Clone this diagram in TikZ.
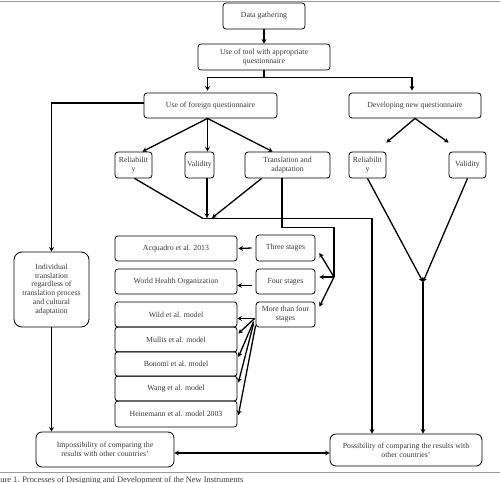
\documentclass[tikz,border=0pt]{standalone}
\usepackage{fontspec}
\setmainfont{Liberation Serif}
\usetikzlibrary{arrows.meta,calc}
\definecolor{txt}{HTML}{3A3A3A}
\definecolor{rulegrey}{HTML}{9A9A9A}
\begin{document}
\begin{tikzpicture}[x=1pt,y=-1pt,
  box/.style={draw, line width=0.8pt, rounded corners=3pt, align=center, text=txt,
    font=\fontsize{7.8}{8.9}\selectfont, inner sep=1pt},
  ln/.style={line width=1.3pt},
  arr/.style={line width=1.3pt, -{Stealth[length=4.5pt,width=4.8pt]}},
  darr/.style={line width=1.3pt, {Stealth[length=4.5pt,width=4.8pt]}-{Stealth[length=4.5pt,width=4.8pt]}}]
\useasboundingbox (0,0) rectangle (500,482);
\clip (0,0) rectangle (500,482);
% rules and caption
\draw[rulegrey, line width=0.8pt] (0,1) -- (500,1);
\draw[rulegrey, line width=0.8pt] (0,472) -- (500,472);
\node[anchor=north west, text=txt, font=\fontsize{8.4}{9.5}\selectfont, inner sep=0pt] (cap) at (-11,476)
  {Figure 1. Processes of Designing and Development of the New Instruments};
% nodes
\node[box, minimum width=82pt, minimum height=26pt] (dg) at (264,16) {Data gathering};
\node[box, minimum width=132pt, minimum height=26pt] (tool) at (264,57) {Use of tool with appropriate\\questionnaire};
\node[box, minimum width=133pt, minimum height=25pt] (foreign) at (210.5,105.5) {Use of foreign questionnaire};
\node[box, minimum width=132pt, minimum height=25pt] (newq) at (415,105.5) {Developing new questionnaire};
\node[box, minimum width=37pt, minimum height=26pt] (rel1) at (133.5,165) {Reliabilit\\y};
\node[box, minimum width=29pt, minimum height=26pt] (val1) at (199.5,165) {Validity};
\node[box, minimum width=85pt, minimum height=26pt] (trans) at (287.5,165) {Translation and\\adaptation};
\node[box, minimum width=37pt, minimum height=26pt] (rel2) at (367.5,165) {Reliabilit\\y};
\node[box, minimum width=37pt, minimum height=26pt] (val2) at (467.5,165) {Validity};
\node[box, rounded corners=8pt, minimum width=75pt, minimum height=75pt] (indiv) at (51.5,289.5)
  {Individual\\translation\\regardless of\\translation process\\and cultural\\adaptation};
\node[box, minimum width=122pt, minimum height=25pt] (acq) at (176,248.5) {Acquadro et al. 2013};
\node[box, minimum width=122pt, minimum height=25pt] (who) at (176,281.5) {World Health Organization};
\node[box, minimum width=122pt, minimum height=25pt] (wild) at (176,314.5) {Wild et al. model};
\node[box, minimum width=122pt, minimum height=25pt] (mullis) at (176,339.5) {Mullis et al. model};
\node[box, minimum width=122pt, minimum height=24.5pt] (bonomi) at (176,364) {Bonomi et al. model};
\node[box, minimum width=122pt, minimum height=25pt] (wang) at (176,388.5) {Wang et al. model};
\node[box, minimum width=122pt, minimum height=26pt] (hein) at (176,414) {Heinemann et al. model 2003};
\node[box, minimum width=59pt, minimum height=26pt] (three) at (285.5,248) {Three stages};
\node[box, minimum width=59pt, minimum height=25pt] (four) at (285.5,281.5) {Four stages};
\node[box, minimum width=59pt, minimum height=25pt] (more) at (285.5,314.5) {More than four\\stages};
\node[box, rounded corners=6pt, minimum width=138pt, minimum height=35pt] (imp) at (105,449.5)
  {Impossibility of comparing the\\results with other countries'};
\node[box, rounded corners=6pt, minimum width=152pt, minimum height=32pt] (poss) at (406,450)
  {Possibility of comparing the results with\\other countries'};
% connectors: top
\draw[arr] (dg) -- (tool);
\coordinate (sp) at ($(tool.south)+(0,7)$);
\draw[ln] (tool.south) -- (sp);
\draw[arr, shorten >=2pt] (sp) -| ($(foreign.north)+(-3,0)$);
\draw[arr, shorten >=2pt] (sp) -| ($(newq.north)+(-3,0)$);
\draw[arr] ($(foreign.west)+(0,-2.5)$) -| (indiv.north);
% foreign branches
\coordinate (fs) at ($(foreign.south)+(-3,0)$);
\draw[arr] (fs) -- ($(rel1.north east)+(-10,0)$);
\draw[arr] (fs) -- (fs |- val1.north);
\draw[arr] (fs) -- ($(trans.north west)+(28,0)$);
% new questionnaire branches
\draw[arr] (newq.south) -- ($(rel2.north east)+(0,-9)$);
\draw[arr] (newq.south) -- ($(val2.north west)+(0,-9)$);
% convergence left
\coordinate (c1) at (203,218.5);
\coordinate (c1b) at (207,218);
\coordinate (c1c) at (212,218);
\coordinate (c1r) at (372,218.5);
\draw[ln] ($(rel1.south)+(1,0)$) -- (c1);
\draw[arr] (val1.south -| c1b) -- (c1b);
\draw[arr] ($(trans.south west)+(17,0)$) -- (c1c);
\draw[arr] (c1) -- (c1r) -- (c1r |- poss.north);
% translation to stages
\coordinate (br) at (334,277);
\draw[ln] ($(trans.south)+(-5.5,0)$) -- ++(0,49) -| (br);
\draw[arr] (br) -- ($(three.east)+(4,5)$);
\draw[arr] (br) -- ($(four.east)+(4,-4.5)$);
\draw[arr] (br) -- ($(more.north east)+(4,5)$);
% stages to models
\draw[arr] ($(three.west)+(-4,0)$) -- ($(acq.east)+(1,0)$);
\coordinate (f4) at ($(four.west)+(-4,4)$);
\draw[arr] (f4) -- (f4 -| who.east);
\coordinate (m0) at ($(more.west)+(-1,4)$);
\draw[arr] (m0) -- (m0 -| wild.east);
\draw[arr] (m0) -- ($(mullis.east)+(1,-6)$);
\draw[arr] ($(more.west)+(-2,7)$) -- ($(bonomi.east)+(1,-7)$);
\draw[arr] ($(more.west)+(-2,9)$) -- ($(wang.east)+(1,-6)$);
\draw[arr] ($(more.west)+(0,11)$) -- ($(hein.east)+(1,1)$);
% convergence right
\coordinate (c2) at (423,282);
\draw[arr] (rel2.south) -- (c2);
\draw[arr] (val2.south) -- (c2);
\draw[arr] (c2) -- (c2 |- poss.north);
% bottom
\draw[arr] (indiv.south) -- (indiv.south |- imp.north);
\coordinate (d1) at ($(imp.east)+(0,3.5)$);
\draw[darr] (d1) -- (d1 -| poss.west);
\end{tikzpicture}
\end{document}
